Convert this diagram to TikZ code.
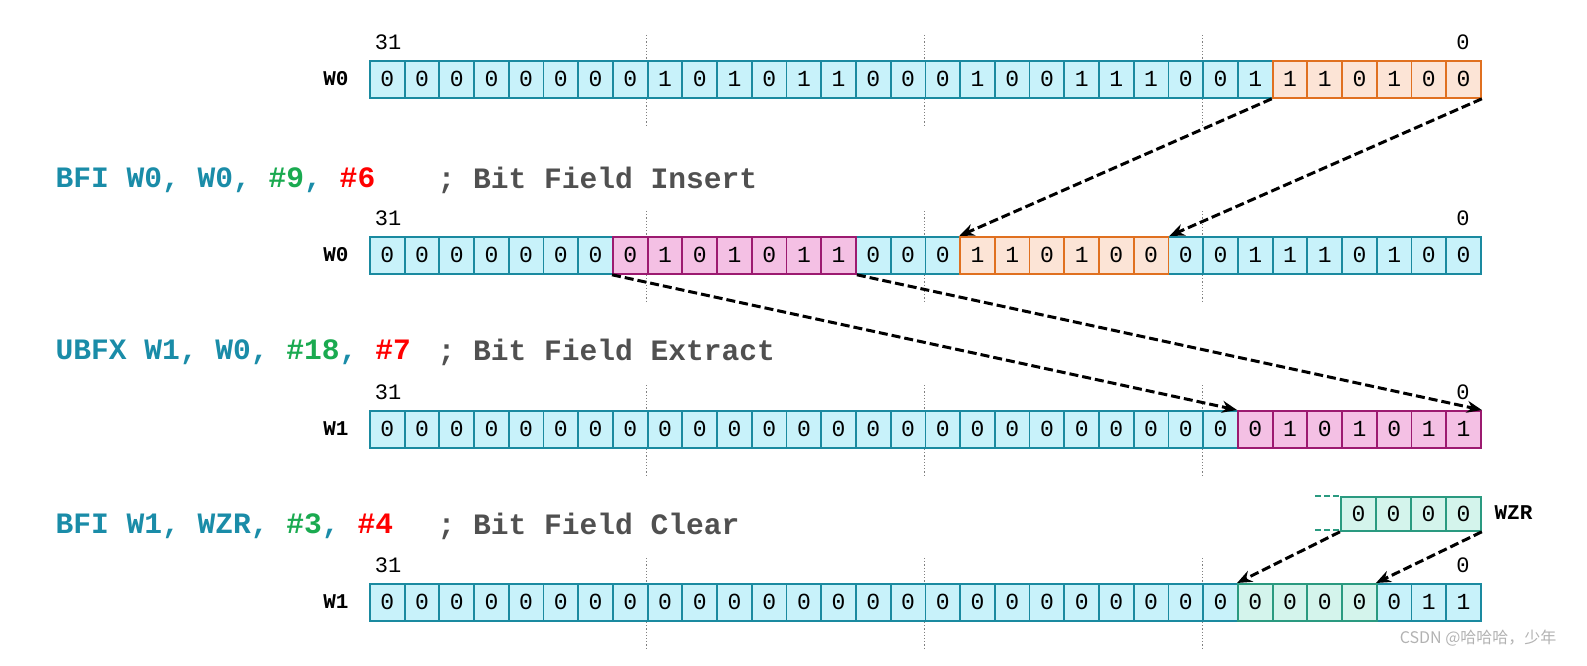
\documentclass[tikz,border=0pt]{standalone}
\usepackage{fontspec}
\setmainfont{Liberation Mono}
\newfontfamily\cjk{Noto Sans CJK SC}
\usetikzlibrary{arrows.meta}
\definecolor{bfill}{HTML}{C8F2FA}\definecolor{bdraw}{HTML}{1A8AA0}
\definecolor{ofill}{HTML}{FCE4D6}\definecolor{odraw}{HTML}{E07020}
\definecolor{pfill}{HTML}{F4C0E4}\definecolor{pdraw}{HTML}{9C1A70}
\definecolor{gfill}{HTML}{D4F4EC}\definecolor{gdraw}{HTML}{2A9A80}
\definecolor{teal}{HTML}{1A8CA8}\definecolor{grn}{HTML}{1AAA50}\definecolor{gry}{HTML}{505050}
\tikzset{
 cell/.style={draw=bdraw,fill=bfill,line width=1.8pt,minimum width=34.72pt,minimum height=37pt,inner sep=0pt,anchor=north west,font=\fontsize{23}{23}\selectfont},
 reg/.style={anchor=east,font=\bfseries\fontsize{21}{21}\selectfont},
 idx/.style={font=\fontsize{22}{22}\selectfont},
 ins/.style={anchor=west,font=\bfseries\fontsize{29.6}{30}\selectfont},
 arr/.style={line width=3pt,-{Stealth[length=15pt,width=12pt]},dash pattern=on 9pt off 4pt},
 guide/.style={gray,dotted,line width=1.2pt}
}
\begin{document}
\begin{tikzpicture}[x=1pt,y=-1pt]
\useasboundingbox (0,0) rectangle (1587,666);
\foreach \t in {60,236,410,583}{
 \foreach \k in {8,16,24}{
  \draw[guide] ({369+\k*34.72},{\t-25}) -- ({369+\k*34.72},{\t+65});
 }
 \node[idx] at (388,{\t-18}) {31};
 \node[idx] at (1463,{\t-18}) {0};
}
\def\bitsa{0,0,0,0,0,0,0,0,1,0,1,0,1,1,0,0,0,1,0,0,1,1,1,0,0,1,1,1,0,1,0,0}
\def\bitsb{0,0,0,0,0,0,0,0,1,0,1,0,1,1,0,0,0,1,1,0,1,0,0,0,0,1,1,1,0,1,0,0}
\def\bitsc{0,0,0,0,0,0,0,0,0,0,0,0,0,0,0,0,0,0,0,0,0,0,0,0,0,0,1,0,1,0,1,1}
\def\bitsd{0,0,0,0,0,0,0,0,0,0,0,0,0,0,0,0,0,0,0,0,0,0,0,0,0,0,0,0,0,0,1,1}
\foreach \r/\t/\bits/\lab in {a/60/\bitsa/W0,b/236/\bitsb/W0,c/410/\bitsc/W1,d/583/\bitsd/W1}{
 \node[reg] (\r-lab) at (352,{\t+18.5}) {\lab};
 \foreach \j in {0,...,31}{
  \pgfmathtruncatemacro\v{{\bits}[\j]}
  \node[cell] (\r-\j) at ({369+\j*34.72},\t) {\v};
 }
}
\foreach \r/\t/\bits/\a/\b/\f/\d in {a/60/\bitsa/26/31/ofill/odraw, b/236/\bitsb/7/13/pfill/pdraw, b/236/\bitsb/17/22/ofill/odraw, c/410/\bitsc/25/31/pfill/pdraw, d/583/\bitsd/25/28/gfill/gdraw}{
 \foreach \j in {\a,...,\b}{
  \pgfmathtruncatemacro\v{{\bits}[\j]}
  \node[cell,draw=\d,fill=\f] (\r-\j) at ({369+\j*34.72},\t) {\v};
 }
}
\draw[gdraw,line width=1.8pt,dash pattern=on 6pt off 3pt] (1315,496) -- (1340,496) (1315,530) -- (1340,530);
\foreach \k in {0,...,3}{
 \node[cell,draw=gdraw,fill=gfill,minimum width=35pt,minimum height=34pt] (z-\k) at ({1340+\k*35},496) {0};
}
\node[anchor=west,font=\bfseries\fontsize{21}{21}\selectfont] (wzr) at (1491,513) {WZR};
\node[ins] (i1) at (52,180) {\textcolor{teal}{BFI W0, W0, }\textcolor{grn}{\#9}\textcolor{teal}{, }\textcolor{red}{\#6}};
\node[ins,text=gry] (c1) at (434,180) {; Bit Field Insert};
\node[ins] (i2) at (52,352) {\textcolor{teal}{UBFX W1, W0, }\textcolor{grn}{\#18}\textcolor{teal}{, }\textcolor{red}{\#7}};
\node[ins,text=gry] (c2) at (434,352) {; Bit Field Extract};
\node[ins] (i3) at (52,526) {\textcolor{teal}{BFI W1, WZR, }\textcolor{grn}{\#3}\textcolor{teal}{, }\textcolor{red}{\#4}};
\node[ins,text=gry] (c3) at (434,526) {; Bit Field Clear};
\draw[arr] (a-26.south west) -- (b-17.north west);
\draw[arr] (a-31.south east) -- (b-22.north east);
\draw[arr] (b-7.south west) -- (c-25.north west);
\draw[arr] (b-13.south east) -- (c-31.north east);
\draw[arr] (z-0.south west) -- (d-25.north west);
\draw[arr] (z-3.south east) -- (d-29.north west);
\node[anchor=east,text=black!30,font=\cjk\fontsize{16}{16}\selectfont] (wm) at (1560,638) {CSDN @哈哈哈，少年};
\end{tikzpicture}
\end{document}
